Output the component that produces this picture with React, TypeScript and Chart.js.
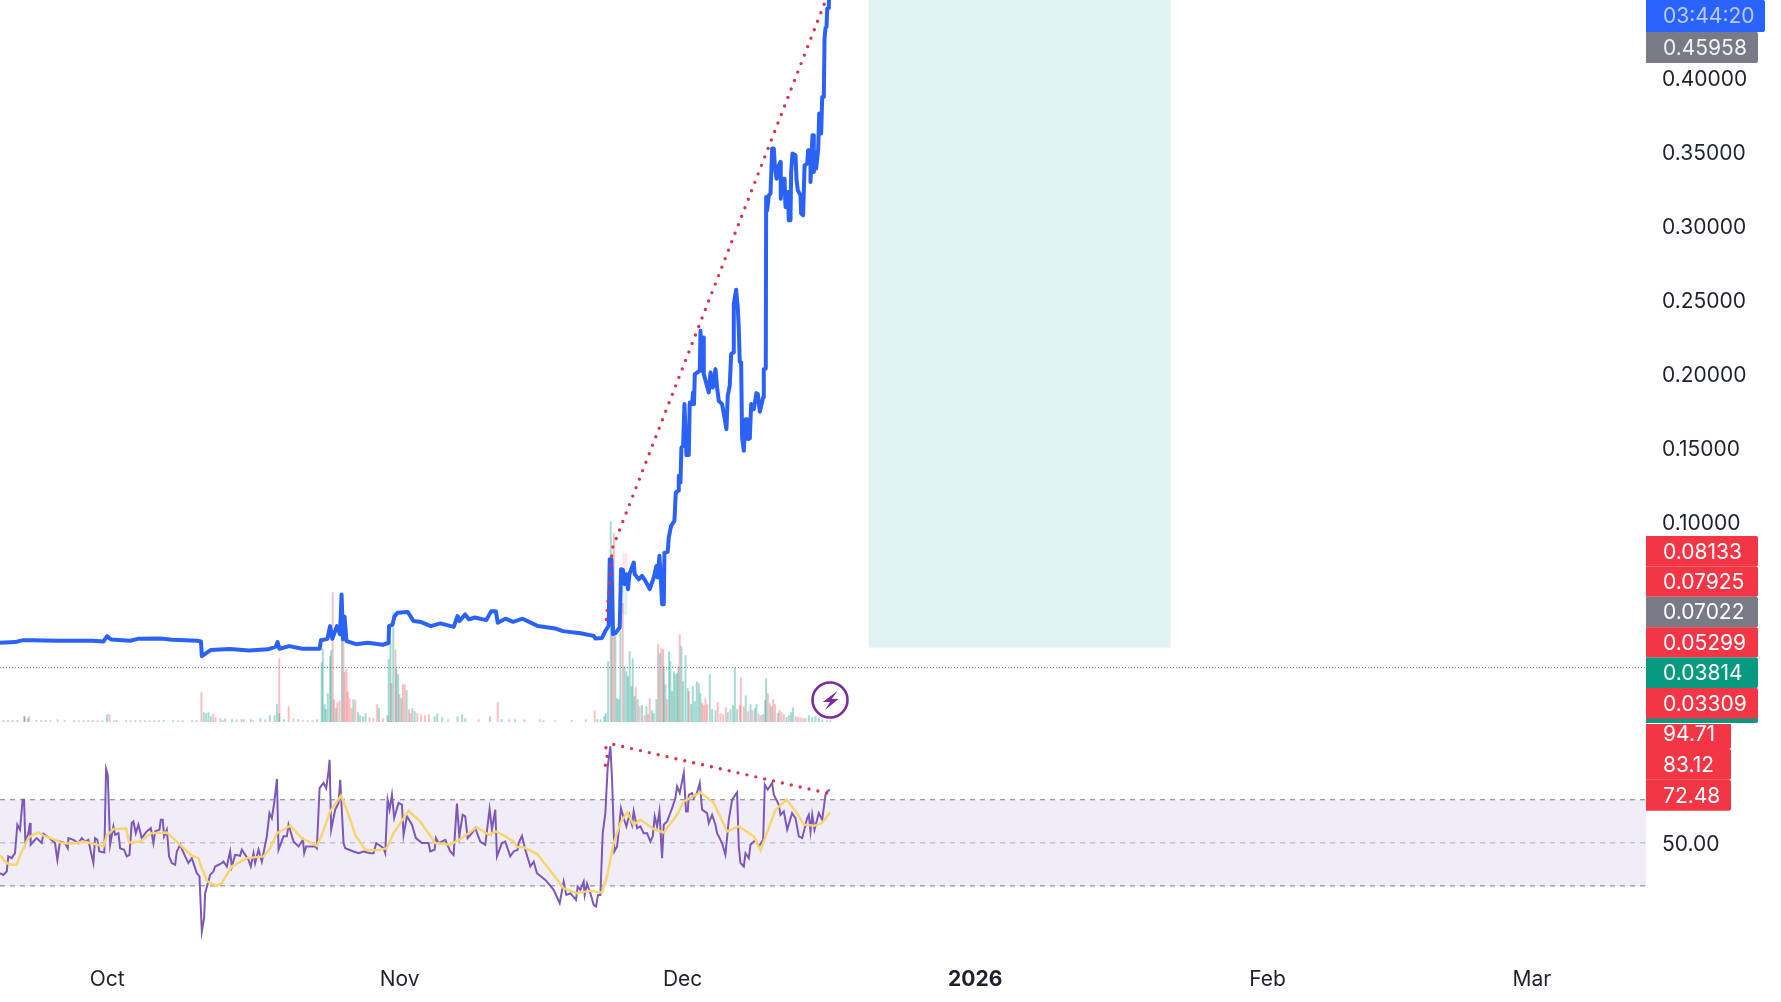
import React, { useEffect, useRef } from "react";
import { Chart, registerables } from "chart.js";

Chart.register(...registerables);

// x values are days counted from 1 Oct 2025
const monthDays = [0, 31, 61, 92, 123, 151];
const monthLabels = ["Oct", "Nov", "Dec", "2026", "Feb", "Mar"];
const priceTicks = [0.1, 0.15, 0.2, 0.25, 0.3, 0.35, 0.4];
const rsiTicks = [100, 50];

const priceDays = [-11.35,-9.73,-8.92,-7.9,-5.26,-1.61,-0.39,0.01,0.42,2.45,3.26,5.69,6.91,9.55,9.95,10.04,10.97,13,15.03,17.06,17.87,18.07,18.27,19.29,20.71,22.53,22.66,23.35,23.63,23.87,24.36,24.69,24.85,25.01,25.17,25.37,26.39,27.61,29.23,29.84,29.88,30.25,30.45,30.77,31.87,32.48,33.29,34.3,35.32,36.74,37.14,37.35,37.95,38.36,38.97,40.19,40.71,41.2,41.4,42.22,43.03,44.04,45.67,47.49,48.3,50.16,51.57,51.75,52.46,52.81,53.16,53.27,53.45,53.62,53.87,54.33,54.47,54.68,54.83,55.04,55.21,55.36,55.82,55.92,56.35,56.7,57.05,57.51,57.94,58.22,58.36,58.54,58.71,58.82,59,59.07,59.42,59.53,59.78,60.13,60.27,60.52,60.59,60.77,60.87,61.05,61.19,61.4,61.65,61.75,62,62.11,62.2,62.29,62.82,62.89,63,63.17,63.24,63.77,63.95,64.2,64.48,64.65,64.83,65.18,65.43,65.64,65.78,65.99,66.14,66.35,66.42,66.67,66.85,66.95,67.05,67.2,67.3,67.48,67.66,67.83,67.94,68.12,68.26,68.54,68.82,68.97,69.18,69.53,69.6,69.81,69.85,69.96,70.13,70.31,70.49,70.66,70.77,70.95,71.19,71.37,71.4,71.55,71.8,71.9,72.15,72.25,72.43,72.5,72.64,72.96,73.07,73.21,73.49,73.56,73.77,73.92,74.2,74.3,74.55,74.55,74.76,74.9,74.9,75.15,75.15,75.37,75.47,75.68,75.79,75.96,76.04,76.14,76.25,76.32,76.5,76.5,76.6];
const priceValues = [0.0189,0.0194,0.0207,0.0207,0.0203,0.0203,0.0198,0.0234,0.0212,0.0203,0.0216,0.0219,0.021,0.0203,0.0198,0.0099,0.014,0.0147,0.0138,0.0145,0.0163,0.0194,0.0149,0.0167,0.0149,0.0149,0.0207,0.0216,0.0302,0.0216,0.0302,0.0246,0.0516,0.0212,0.0365,0.0201,0.018,0.0189,0.0176,0.0189,0.0302,0.0313,0.0365,0.0392,0.0397,0.0336,0.0329,0.0302,0.032,0.0297,0.037,0.0336,0.0381,0.0347,0.036,0.0342,0.0403,0.0403,0.0325,0.0352,0.0331,0.0352,0.0302,0.0286,0.0268,0.0254,0.0236,0.0218,0.0222,0.027,0.0304,0.0753,0.0753,0.0247,0.0254,0.0292,0.0686,0.0681,0.0585,0.0652,0.0551,0.0652,0.0731,0.0652,0.0618,0.0641,0.0607,0.0551,0.063,0.0708,0.063,0.0776,0.0596,0.045,0.045,0.0798,0.0803,0.09,0.0979,0.1012,0.1203,0.1215,0.1316,0.1271,0.1507,0.1519,0.18,0.1456,0.1456,0.1811,0.18,0.1879,0.18,0.2002,0.2025,0.2295,0.2025,0.225,0.2002,0.1879,0.2014,0.1912,0.2036,0.1912,0.1822,0.18,0.171,0.1631,0.1856,0.1924,0.2137,0.2148,0.2477,0.2572,0.2444,0.2308,0.2085,0.2081,0.1575,0.1485,0.1698,0.1698,0.1564,0.1568,0.18,0.1766,0.1874,0.1867,0.1748,0.1845,0.2036,0.204,0.3197,0.3107,0.3208,0.322,0.3524,0.3524,0.3411,0.3321,0.3411,0.3434,0.3186,0.3321,0.3321,0.313,0.3231,0.304,0.304,0.3366,0.349,0.3479,0.331,0.3242,0.3208,0.3085,0.3074,0.3411,0.3422,0.3512,0.3512,0.3299,0.3614,0.3614,0.3366,0.3501,0.3389,0.3524,0.376,0.3625,0.3872,0.3872,0.4266,0.4338,0.4345,0.4469,0.4473,0.4536,0.4596];

const rsiDays = [-11.35,-11,-10.64,-10.47,-10.11,-9.76,-9.51,-9.23,-8.95,-8.8,-8.66,-8.35,-8.17,-8.1,-7.82,-7.46,-6.93,-6.75,-6.22,-5.52,-5.27,-4.99,-4.46,-4.17,-4.1,-3.57,-3.04,-2.69,-2.34,-1.98,-1.73,-1.45,-1.28,-1.03,-0.82,-0.29,-0.11,0.07,0.32,0.67,0.85,1.2,1.38,1.8,2.08,2.37,2.61,2.79,3.04,3.32,3.67,4.2,4.63,4.91,5.09,5.55,5.69,5.9,6.04,6.33,6.57,6.86,7.21,7.39,7.74,8.27,8.62,8.98,9.51,9.79,10.04,10.28,10.39,10.92,11.27,11.45,12.16,12.33,12.69,13.04,13.22,13.57,14.1,14.28,14.99,15.23,15.52,15.69,16.05,16.4,16.75,16.93,17.21,17.46,17.71,18,18.17,18.7,19.05,19.23,19.76,20.29,20.75,20.89,21.1,22.06,22.23,22.52,22.94,23.22,23.47,23.58,23.75,24.18,24.53,24.71,25.06,25.24,26.12,26.65,27.18,27.89,28.24,28.53,29.3,29.48,29.73,29.94,30.19,30.43,30.89,31.25,31.42,31.78,32.31,32.73,33.37,34.07,34.25,34.71,34.85,35.13,35.84,36.37,36.72,37.08,37.33,37.68,37.96,38.21,38.67,39.02,39.55,40.08,40.54,40.79,41.14,41.32,41.85,42.2,42.73,43.09,43.51,43.62,43.97,44.32,44.86,45.21,45.56,46.45,47.33,47.97,48.39,48.67,49.1,49.7,49.87,50.16,50.51,50.62,50.86,51.22,51.57,51.82,52.03,52.28,52.53,52.81,53.06,53.34,53.52,53.76,54.05,54.47,54.75,55.04,55.35,55.64,55.81,56.17,56.52,56.87,57.23,57.58,57.83,58.04,58.29,58.54,58.82,59,59.35,59.88,60.23,60.41,60.69,61.12,61.36,61.54,61.65,62,62.18,62.53,62.81,63.06,63.59,63.77,64.12,64.47,64.65,65.18,65.53,65.89,66.24,66.77,66.95,67.13,67.48,67.66,68.01,68.19,68.72,69.07,69.53,69.71,70.02,70.48,70.66,71.19,71.37,71.72,72.08,72.6,72.96,73.31,73.67,74.2,74.37,74.55,74.73,74.97,75.43,75.79,76.14,76.32,76.6];
const rsiValues = [35.9,35.1,36.7,43.7,42.9,45.2,58.4,56.1,70,70,49.9,54.5,59.2,49.1,50.6,52.2,49.9,54.2,52.6,49.9,42.1,50.6,49.9,47.5,52.2,51.4,49.9,52.2,50.6,51.4,46,40.6,52.2,51.4,46,45.5,84.3,81.6,49.1,57.6,53.7,54.5,47.5,46.8,43.7,44.4,59.2,59.9,54.5,58.4,52.2,55.3,56.8,49.9,55.3,56.1,60.7,60.7,53,56.1,43.7,40.6,39.8,46,49.1,43.7,40.6,42.9,35.9,34.4,8.8,15,26.6,35.1,36.7,39,40.6,41.3,39,46,39,44.4,44,46.8,42.1,39,45.2,40.6,46.8,41.3,49.1,53,63.8,61.5,68.5,79.6,46.8,53,53,58.4,50.6,48.3,51.4,45.2,48.3,48.3,47.5,75.4,77.8,75.4,83.2,88.6,56.1,65.4,68.5,79.3,49.9,47.5,46,45.2,46,45.2,45.2,49.9,47.5,45.2,70,65.4,72.3,61.5,68.5,67.7,53.7,62.3,58.4,52.2,49.9,49.9,46,46.8,52.2,49.9,51.4,46,44.4,68.2,53,63,62.3,52.2,54.5,56.8,50.6,49.1,65.7,56.1,65.4,43.7,49.9,50.6,43.7,46,46.8,49.9,53.3,46.8,39,41.3,35.9,32.8,28.2,22,32,25.8,26.6,23.5,29.7,28.2,32,25.8,31,26.6,21.2,20.4,25.8,25.8,54.5,63.8,85.5,94.8,79.3,46,48.3,66.1,61.5,57.6,63,58.4,64.6,56.8,57.6,54.5,54.5,50.6,53,62.3,57.6,64.6,42.9,58.4,59.9,66.1,70.8,76.2,73.1,82.4,64.6,64.6,72.3,73.1,70.8,73.4,77.8,65.4,63.8,59.2,63,58.4,54.5,49.9,44.4,60.7,70,73.4,48.3,40.6,39,45.2,42.9,49.1,51.4,48.3,51.4,77,74.7,77.8,72.3,67.7,63,64.6,56.1,63.8,61.5,53,52.2,61.5,63,55.3,63,56.1,63.8,60.7,72.3,73.9,74.7];

const rsiMaDays = [-11.35,-10.82,-10.29,-9.58,-9.05,-8.35,-7.82,-7.28,-6.75,-5.69,-4.81,-3.75,-2.51,-1.45,-0.39,-0.04,0.67,2.01,2.33,3.5,4.73,6.33,7.74,8.98,9.68,10.04,10.64,11.63,12.16,13.22,14.81,16.58,17.28,18,19.41,20.64,22.23,22.76,23.65,24.78,25.41,26.3,27.36,28.6,29.66,30.36,31.95,33.19,34.78,36.37,37.61,39.2,40.44,41.21,42.2,43.09,43.44,44.15,45.56,47.33,48.39,49.8,51.22,52.46,52.99,53.69,54.4,55.11,55.81,56.52,57.93,59,60.41,61.12,62.88,64.3,65.71,66.95,68.54,69.25,70.84,72,73.13,73.84,74.9,75.79,76.6];
const rsiMaValues = [44.4,41.3,39.8,39.8,46,52.2,53.7,54.8,53.3,51.7,49.9,49.6,50.6,49.6,48.3,53.3,56.4,56.8,50.2,50.6,54.5,54.8,49.1,44,42.9,38.2,32,30,31.3,39,42.9,43.7,47.5,54.5,57.9,52.2,48.6,53.7,64.6,71.9,65.4,53.7,46.8,46.5,47.5,54.5,64.9,59.9,49.9,49.1,52.2,57.3,53.7,55.3,53,50.6,48,48,44.9,35.1,28.9,26.6,27.8,26.9,34.4,49.9,59.2,64.1,58.4,60.7,56.4,54.8,63,69.2,73.4,68.5,55.3,57.6,53,46.5,65.4,70,63.8,58.4,57.9,59.2,64.1];

const volUpDays = [-11,-10,-9.5,-8.75,-8.4,-7.5,-6.5,-6,-4.5,-3.5,-2.5,-1.5,-0.5,0,1,2,3,4,5,6,7,8,9,10.25,10.5,10.75,11,12.25,13.25,14.25,15.25,16.25,17.25,17.75,18,18.25,18.75,20.25,21.25,22.25,22.74,22.86,23.06,23.18,23.39,23.63,23.75,24.24,24.89,26.1,26.59,26.8,27.12,27.4,28.82,29.72,29.84,30.04,30.33,30.65,30.85,31.18,31.75,32.35,32.6,34.71,34.99,35.52,37.14,37.63,37.96,40.59,41.81,43.25,46.25,49.25,51.95,52.3,52.7,52.85,53.1,53.38,53.87,54.05,54.23,54.4,54.83,55.04,55.21,55.39,55.57,55.71,55.89,56.24,56.7,57.16,57.76,57.94,58.22,58.57,59,59.17,59.56,59.7,59.88,60.06,60.23,60.41,60.55,60.87,61.05,61.3,61.54,61.9,62.07,62.29,62.5,62.71,62.89,63.88,64.12,64.48,65.78,66.07,66.35,66.53,66.77,67.69,68.19,68.65,68.82,69.53,69.74,69.85,70.42,71.09,72,72.25,72.5,72.68,74.02,74.37,74.73,75.08,75.44,75.79,76.32,76.67];
const volUpValues = [1,1,1,5,3,1,1,1,1,1,1,1,1,7,1,1,1,1,1,1,1,1,1,9,8,9,5,1,2,2,2,3,6,6,17,8,2,2,1,2,59,73,17,12,28,65,71,13,85,22,9,6,5,8,13,6,62,78,109,53,47,23,31,13,10,5,8,4,5,7,3,5,2,2,1,1,2,2,5,8,60,200,85,23,22,90,55,50,45,70,35,63,25,22,16,15,11,8,22,68,55,37,70,60,30,50,47,48,55,75,40,66,33,17,35,20,40,38,28,47,12,11,9,12,16,54,12,26,17,13,17,7,21,43,15,8,4,6,9,14,3,6,4,5,4,2,1,1];
const volDownDays = [-10.5,-8.75,-8.25,-7,-5.25,-3,-2,-1,0.25,0.75,2.5,3.5,4.5,5.5,7.5,9.5,10,11.25,11.5,12,12.5,13.75,14.5,15.5,16.75,18.25,19.25,19.75,20.75,21.75,23.91,24.04,24.4,24.64,25.05,25.17,25.37,25.5,25.7,25.9,26.31,27.81,28.22,28.62,29.23,30.12,30.57,30.98,31.34,31.54,31.99,32.15,32.88,33.29,33.69,34.1,36.13,39.38,41.4,42.62,44.24,45.87,47.49,50.74,51.67,53.52,53.7,54.65,56.03,56.45,56.95,57.34,57.51,58.4,58.75,58.93,59.35,60.69,61.68,63.06,63.24,63.42,63.59,64.72,65,65.29,65.57,67.06,67.16,67.48,67.94,68.4,69.07,69.32,70.03,70.24,70.59,70.8,71.26,71.48,71.72,72.96,73.21,73.49,73.77];
const volDownValues = [1,5,5,1,2,1,1,1,7,1,1,1,1,1,1,1,29,7.5,4,3,3,2,2,1,2,63,15,3,1,1,129,22,19,21,79,49,52,30,23,13,21,4,3,17,3,38,72,27,37,37,12,8,8,7,6,7,2,2,19,2,2,2,1,2,11,85,188,118,34,15,6,7,23,77,73,72,22,87,30,18,16,23,17,19,8,7,14,16,44,15,10,11,7,6,28,18,22,17,11,9,7,5,4,4,3];

const trendPriceDays = [52.92, 53.55, 76.6];
const trendPriceValues = [0.0347, 0.0826, 0.4596];
const trendRsiDays = [52.81, 52.99, 52.81, 53.45, 76.6];
const trendRsiValues = [86, 90.2, 94, 95.9, 72.8];

const zoneDays = [80.7, 112.7];
const zonePrices = [0.0157, 0.47];
const targetPrices = [0.0684, 0.0793];
const stopPrices = [0.038, 0.057];
const positionDays = [54.6, 55.15];
const priceLevel = 0.0022;
const rsiBand = [30, 70];
const rsiLevels = [70, 50, 30];

const topBadgeTexts = ["03:44:20", "0.45958"];
const priceBadgeTexts = ["0.08133", "0.07925", "0.07022", "0.05299", "0.03814", "0.03309"];
const rsiBadgeTexts = ["94.71", "83.12", "72.48"];

const RED = "#f23645";
const GREEN = "#089981";
const GREY = "#787b86";
const BLUE = "#2962ff";
const FONT = "Inter";
const priceBadgeColors = [RED, RED, GREY, RED, GREEN, RED];

const zip = (xs: number[], ys: number[]) => xs.map((x, i) => ({ x, y: ys[i] }));
const X_MIN = -11.35;
const X_MAX = 163.1;
// Chart.js keeps about 30px above the plot and the two right axes need their own
// width, so the canvas is larger than the window and cropped by its wrapper.
const TOP_CROP = 30;
const AXIS_BOX = 135;

const overlayPlugin = {
  id: "overlay",
  afterLayout(chart: any) {
    // both right-hand axes share one column
    const { yPrice, yRsi } = chart.scales;
    yPrice.left = yRsi.left;
    yPrice.right = yRsi.right;
    yPrice._labelItems = null;
  },
  beforeDatasetsDraw(chart: any) {
    const { ctx, scales, chartArea } = chart;
    const { x, yPrice, yRsi } = scales;
    const rect = (d: number[], vals: number[], scale: any, color: string) => {
      const top = scale.getPixelForValue(Math.max(...vals));
      const bottom = scale.getPixelForValue(Math.min(...vals));
      const left = x.getPixelForValue(d[0]);
      ctx.fillStyle = color;
      ctx.fillRect(left, top, x.getPixelForValue(d[1]) - left, bottom - top);
    };
    ctx.save();
    ctx.beginPath();
    ctx.rect(chartArea.left, chartArea.top, chartArea.width, chartArea.height);
    ctx.clip();
    rect(zoneDays, zonePrices, yPrice, "rgba(8,153,129,0.12)");
    rect(positionDays, targetPrices, yPrice, "rgba(242,54,69,0.12)");
    rect(positionDays, stopPrices, yPrice, "rgba(8,153,129,0.12)");
    rect([X_MIN, X_MAX], rsiBand, yRsi, "rgba(126,87,194,0.11)");
    ctx.restore();
  },
  afterDraw(chart: any) {
    const { ctx } = chart;
    const badge = (text: string, top: number, h: number, right: number, bg: string, fg = "#fff") => {
      ctx.fillStyle = bg;
      ctx.beginPath();
      ctx.roundRect(1646, top, right - 1646, h, [0, 2, 2, 0]);
      ctx.fill();
      if (text) {
        ctx.fillStyle = fg;
        ctx.font = `21px ${FONT}`;
        ctx.textAlign = "left";
        ctx.textBaseline = "middle";
        ctx.fillText(text, 1663, top + h / 2 + 1);
      }
    };
    ctx.save();
    ctx.translate(0, TOP_CROP);
    rsiBadgeTexts.forEach((t, i) => badge(t, 718 + i * 30.9, 30.9, 1731, RED));
    ctx.fillStyle = "#fff";
    ctx.fillRect(1646, 716, 135, 8);
    badge("", 716, 7, 1758, GREEN);
    badge(topBadgeTexts[0], 0, 32, 1765, BLUE, "#b9cbff");
    badge(topBadgeTexts[1], 32, 31, 1758, GREY, "#f2f2f4");
    priceBadgeTexts.forEach((t, i) => badge(t, 536 + i * 30.4, 30.4, 1758, priceBadgeColors[i]));

    // lightning bolt marker
    ctx.translate(830, 700);
    ctx.strokeStyle = "#7b2a9f";
    ctx.lineWidth = 2.6;
    ctx.beginPath();
    ctx.arc(0, 0, 17.5, 0, Math.PI * 2);
    ctx.stroke();
    ctx.fillStyle = "#7b2a9f";
    ctx.beginPath();
    ctx.moveTo(7.7, -9.3);
    ctx.lineTo(-7.3, 2);
    ctx.lineTo(0, 2);
    ctx.lineTo(-5, 10);
    ctx.lineTo(8.7, -1);
    ctx.lineTo(1.7, -1);
    ctx.closePath();
    ctx.fill();
    ctx.restore();
  },
};

export default function App() {
  const ref = useRef<HTMLCanvasElement | null>(null);
  useEffect(() => {
    const line = (data: any[], yAxisID: string, color: string, width: number, extra: any = {}) => ({
      type: "line" as const,
      data,
      yAxisID,
      xAxisID: "x",
      borderColor: color,
      borderWidth: width,
      pointRadius: 0,
      tension: 0,
      fill: false,
      ...extra,
    });
    const dotted = { borderDash: [0, 9.1], borderCapStyle: "round" };
    const bars = (xs: number[], ys: number[], color: string) => ({
      type: "bar" as const,
      data: zip(xs, ys),
      yAxisID: "yVol",
      xAxisID: "x",
      backgroundColor: color,
      barThickness: 1.3,
      grouped: false,
      order: 20,
    });
    const chart = new Chart(ref.current as HTMLCanvasElement, {
      data: {
        datasets: [
          line(zip(trendPriceDays, trendPriceValues), "yPrice", "#d8344c", 3.4, { ...dotted, order: 1 }),
          line(zip(priceDays, priceValues), "yPrice", "#2a62f5", 4, { order: 2, borderJoinStyle: "round" }),
          line(zip(trendRsiDays, trendRsiValues), "yRsi", "#d8344c", 3.4, { ...dotted, order: 1 }),
          line(zip(rsiMaDays, rsiMaValues), "yRsi", "#f7d56c", 2.4, { order: 3 }),
          line(zip(rsiDays, rsiValues), "yRsi", "#7c58bb", 2, { order: 4 }),
          ...rsiLevels.map((lv, i) =>
            line(zip([X_MIN, X_MAX], [lv, lv]), "yRsi", i === 1 ? "rgba(120,123,134,0.55)" : GREY, 1, {
              borderDash: [5, 5],
              order: 10,
            }),
          ),
          line(zip([X_MIN, X_MAX], [priceLevel, priceLevel]), "yPrice", GREY, 1, { borderDash: [1, 2], order: 10 }),
          bars(volUpDays, volUpValues, "rgba(8,153,129,0.36)"),
          bars(volDownDays, volDownValues, "rgba(242,54,69,0.32)"),
        ] as any,
      },
      options: {
        animation: false,
        responsive: false,
        devicePixelRatio: 1,
        layout: { padding: 0, autoPadding: false },
        plugins: { legend: { display: false }, tooltip: { enabled: false } },
        scales: {
          x: {
            type: "linear",
            position: "bottom",
            min: X_MIN,
            max: X_MAX,
            offset: false,
            grid: { display: false, drawTicks: false },
            border: { display: false },
            afterBuildTicks: (s: any) => {
              s.ticks = monthDays.map((value) => ({ value }));
            },
            afterFit: (s: any) => {
              s.height = 42;
            },
            ticks: {
              autoSkip: false,
              maxRotation: 0,
              padding: 7,
              color: "#1e222d",
              font: (c: any) => ({
                family: FONT,
                size: 21,
                weight: c.tick && c.tick.value === monthDays[3] ? "700" : "400",
              }),
              callback: (v: any) => monthLabels[monthDays.indexOf(v)],
            },
          },
          yRsi: {
            type: "linear",
            position: "right",
            weight: -1,
            min: -4.42,
            max: 442.09,
            grid: { display: false, drawTicks: false },
            border: { display: false },
            afterBuildTicks: (s: any) => {
              s.ticks = rsiTicks.map((value) => ({ value }));
            },
            afterFit: (s: any) => {
              s.width = AXIS_BOX;
            },
            ticks: {
              autoSkip: false,
              padding: 16,
              labelOffset: 1.5,
              color: "#1e222d",
              font: { family: FONT, size: 21 },
              callback: (v: any) => Number(v).toFixed(2),
            },
          },
          yPrice: {
            type: "linear",
            position: "right",
            weight: 0,
            min: -0.1951,
            max: 0.4536,
            grid: { display: false, drawTicks: false },
            border: { display: false },
            afterBuildTicks: (s: any) => {
              s.ticks = priceTicks.map((value) => ({ value }));
            },
            afterFit: (s: any) => {
              s.width = AXIS_BOX;
            },
            ticks: {
              autoSkip: false,
              padding: 16,
              labelOffset: 1.5,
              color: "#1e222d",
              font: { family: FONT, size: 21 },
              callback: (v: any) => Number(v).toFixed(5),
            },
          },
          yVol: { type: "linear", display: false, min: -238, max: 722 },
        },
      } as any,
      plugins: [overlayPlugin as any],
    } as any);
    return () => chart.destroy();
  }, []);
  return (
    <div style={{ position: "fixed", inset: 0, background: "#fff", overflow: "hidden" }}>
      <canvas
        ref={ref}
        width={1781 + AXIS_BOX}
        height={1002 + TOP_CROP}
        style={{ display: "block", position: "absolute", left: 0, top: -TOP_CROP }}
      />
    </div>
  );
}
